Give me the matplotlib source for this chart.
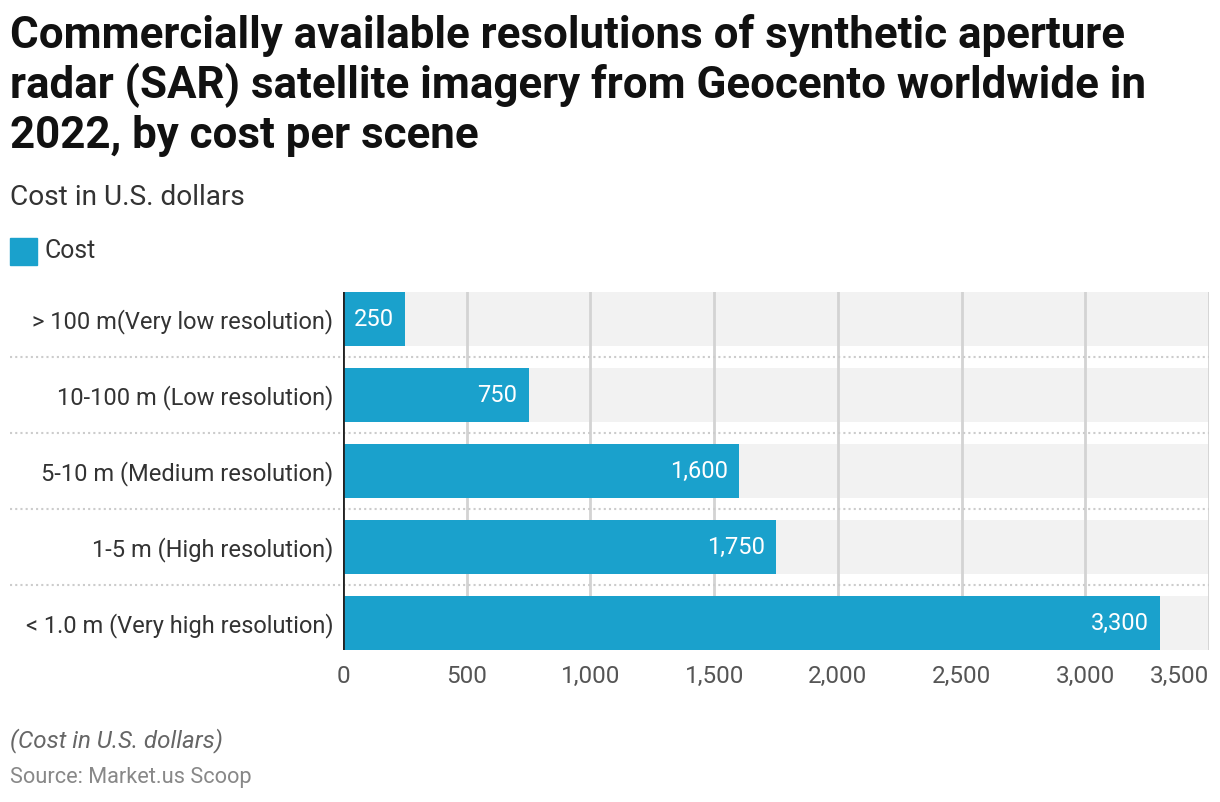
import matplotlib
matplotlib.use("Agg")
import matplotlib.pyplot as plt
from matplotlib.patches import Rectangle
from matplotlib.ticker import FuncFormatter
import matplotlib.transforms as mtransforms

categories = [
    "> 100 m(Very low resolution)",
    "10-100 m (Low resolution)",
    "5-10 m (Medium resolution)",
    "1-5 m (High resolution)",
    "< 1.0 m (Very high resolution)",
]
values = [250, 750, 1600, 1750, 3300]
xticks = [0, 500, 1000, 1500, 2000, 2500, 3000, 3500]
series_name = "Cost"

BAR = "#1aa1cc"
W, H = 1220, 802
plt.rcParams["font.family"] = ["Roboto", "DejaVu Sans"]

fig = plt.figure(figsize=(W / 100, H / 100), dpi=100)
fig.patch.set_facecolor("white")

ax_l, ax_r, ax_t, ax_b = 343, 1209, 292, 650
ax = fig.add_axes([ax_l / W, 1 - ax_b / H, (ax_r - ax_l) / W, (ax_b - ax_t) / H])

bh = 54 / 76
n = len(categories)
ypos = list(range(n))
ax.set_xlim(0, 3500)
ax.set_ylim(n - 1 + bh / 2, -bh / 2)

# background bands
ax.barh(ypos, [3500] * n, height=bh, color="#f2f2f2", zorder=0)
# grid lines
for t in xticks:
    ax.axvline(t, color="#d3d3d3", lw=2, zorder=1)
# bars
ax.barh(ypos, values, height=bh, color=BAR, zorder=2)
for y, v in zip(ypos, values):
    ax.text(v - 3500 * 11 / (ax_r - ax_l), y, f"{v:,}", ha="right", va="center",
            color="white", fontsize=17, zorder=3)

# dotted separators
trans = mtransforms.blended_transform_factory(fig.transFigure, ax.transData)
for i in range(n - 1):
    ax.plot([10 / W, ax_r / W], [i + 0.5, i + 0.5], transform=trans, color="#cccccc",
            lw=1.5, ls=(0, (1, 1.5)), clip_on=False, zorder=1)

ax.axvline(0, color="#222222", lw=2, zorder=4)

for s in ax.spines.values():
    s.set_visible(False)
ax.set_yticks(ypos)
ax.set_yticklabels(categories, fontsize=17, color="#333333")
ax.set_xticks(xticks)
ax.xaxis.set_major_formatter(FuncFormatter(lambda x, p: f"{int(x):,}"))
ax.tick_params(axis="x", length=0, labelsize=17.5, labelcolor="#555555", pad=11)
ax.tick_params(axis="y", length=0, pad=7)
xtl = ax.get_xticklabels()
xtl[-1].set_horizontalalignment("right")

# titles
title_lines = [
    "Commercially available resolutions of synthetic aperture",
    "radar (SAR) satellite imagery from Geocento worldwide in",
    "2022, by cost per scene",
]
for i, line in enumerate(title_lines):
    fig.text(10 / W, 1 - (48 + 50 * i) / H, line, fontsize=31.6, fontweight="bold",
             color="#111111", ha="left", va="baseline")
fig.text(10 / W, 1 - 205 / H, "Cost in U.S. dollars", fontsize=20.2, color="#333333",
         ha="left", va="baseline")

# legend
fig.patches.append(Rectangle((10 / W, 1 - 265 / H), 27 / W, 27 / H, transform=fig.transFigure,
                             color=BAR, figure=fig))
fig.text(44 / W, 1 - 251 / H, series_name, fontsize=17.8, color="#333333", ha="left", va="center")

fig.text(10 / W, 1 - 741 / H, "(Cost in U.S. dollars)", fontsize=17.4, style="italic",
         color="#666666", ha="left", va="center")
fig.text(10 / W, 1 - 777 / H, "Source: Market.us Scoop", fontsize=15.7, color="#888888",
         ha="left", va="center")

fig.savefig("out.png", dpi=100, facecolor="white")
